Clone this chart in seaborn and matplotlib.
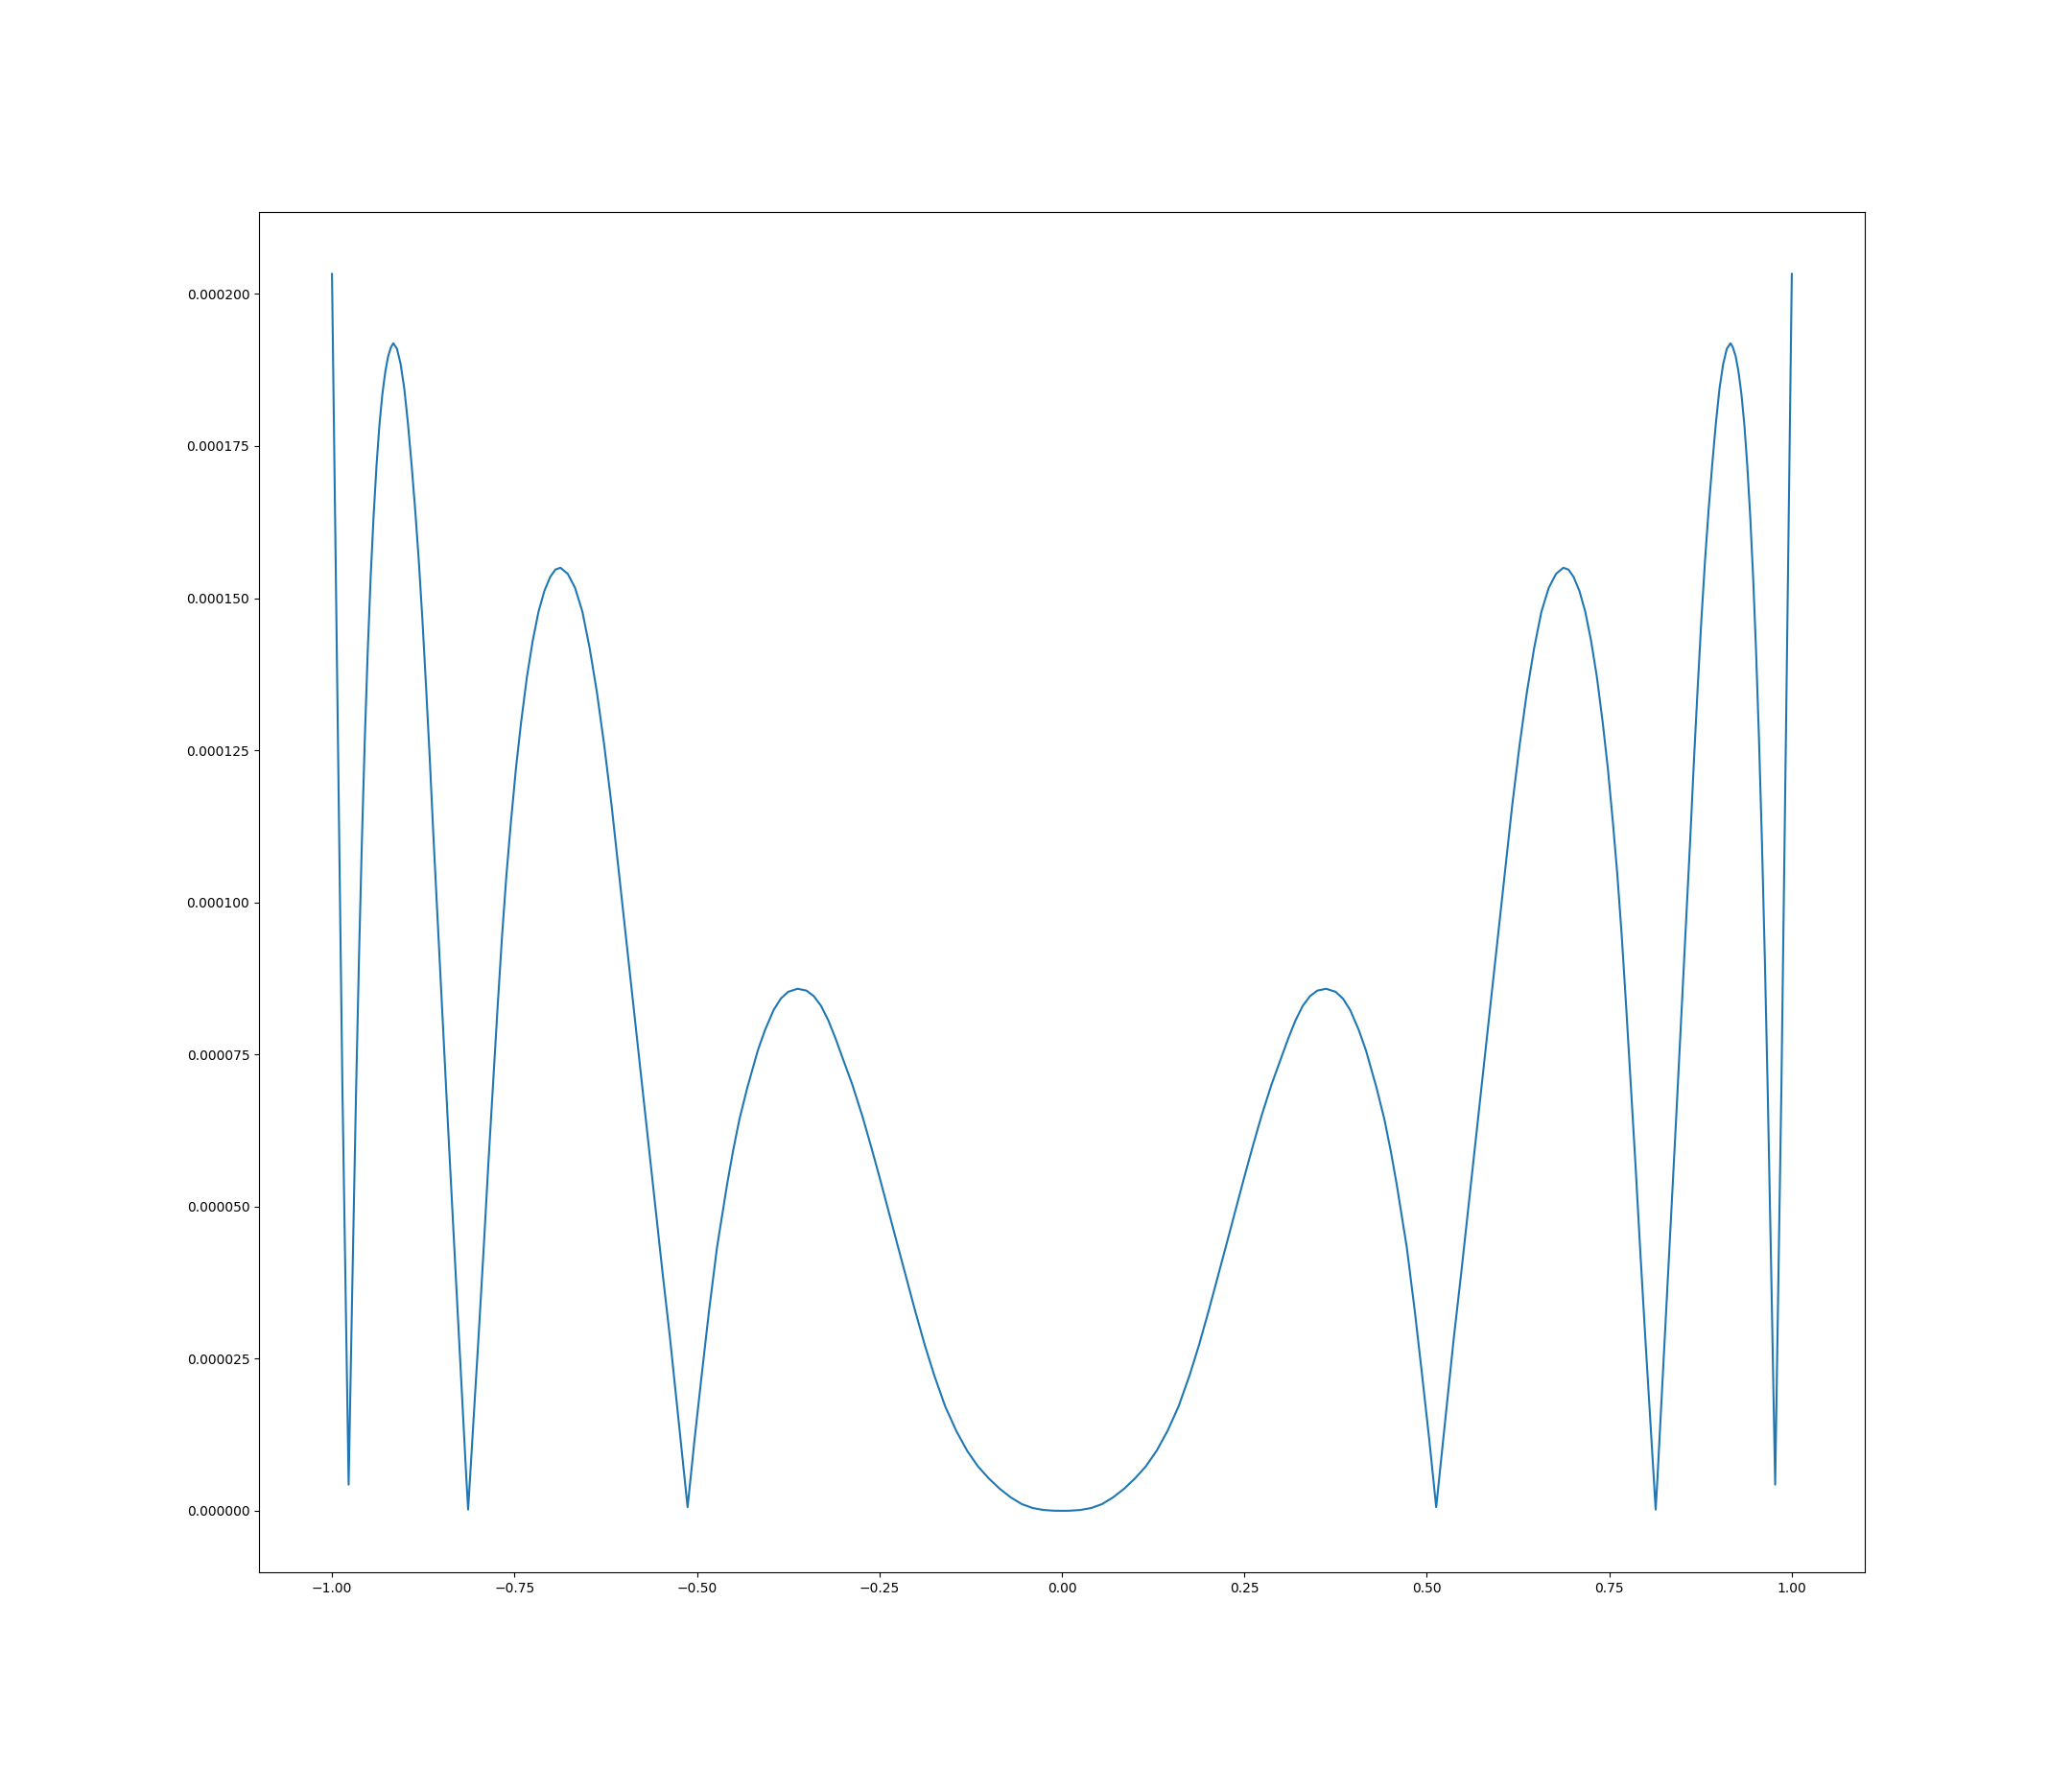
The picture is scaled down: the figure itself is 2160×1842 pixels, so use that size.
import matplotlib
matplotlib.use("Agg")
import matplotlib.pyplot as plt
import seaborn as sns

# |error| curve (values in units of 1e-4)
x_neg = [
    -1.000, -0.995, -0.990, -0.9858, -0.981, -0.9772, -0.972, -0.967, -0.963, -0.959,
    -0.955, -0.951, -0.947, -0.943, -0.939, -0.935, -0.931, -0.927, -0.923, -0.919,
    -0.916, -0.911, -0.906, -0.901, -0.896, -0.891, -0.886, -0.881, -0.876, -0.871,
    -0.866, -0.861, -0.856, -0.851, -0.846, -0.841, -0.836, -0.831, -0.826, -0.821,
    -0.816, -0.8135, -0.806, -0.799, -0.792, -0.7858, -0.7792, -0.773, -0.767, -0.761,
    -0.755, -0.748, -0.741, -0.733, -0.725, -0.717, -0.709, -0.701, -0.694, -0.687,
    -0.677, -0.667, -0.657, -0.647, -0.637, -0.627, -0.617, -0.607, -0.597, -0.587,
    -0.577, -0.567, -0.557, -0.547, -0.537, -0.527, -0.5128, -0.5032, -0.4935, -0.4835,
    -0.4725, -0.4585, -0.4506, -0.4419, -0.4309, -0.4165, -0.4068, -0.395, -0.385, -0.375,
    -0.362, -0.35, -0.34, -0.33, -0.32, -0.31, -0.3016, -0.287, -0.2732, -0.261,
    -0.2491, -0.237, -0.225, -0.213, -0.2009, -0.188, -0.175, -0.16, -0.145, -0.13,
    -0.115, -0.10, -0.085, -0.07, -0.055, -0.04, -0.025, -0.01, 0.0,
]
err_neg = [
    2.033, 1.56, 1.09, 0.701, 0.33, 0.043, 0.38, 0.69, 0.91, 1.102,
    1.27, 1.414, 1.535, 1.635, 1.718, 1.785, 1.835, 1.872, 1.898, 1.913,
    1.919, 1.910, 1.885, 1.845, 1.788, 1.72, 1.645, 1.56, 1.462, 1.352,
    1.235, 1.108, 0.99, 0.87, 0.75, 0.632, 0.515, 0.40, 0.285, 0.17,
    0.055, 0.002, 0.15, 0.29, 0.435, 0.57, 0.705, 0.83, 0.945, 1.045,
    1.13, 1.22, 1.295, 1.37, 1.43, 1.478, 1.512, 1.535, 1.547, 1.550,
    1.540, 1.517, 1.478, 1.418, 1.345, 1.258, 1.16, 1.05, 0.94, 0.83,
    0.72, 0.61, 0.50, 0.39, 0.285, 0.17, 0.006, 0.118, 0.223, 0.328,
    0.433, 0.538, 0.591, 0.643, 0.696, 0.757, 0.79, 0.823, 0.842, 0.853,
    0.858, 0.855, 0.846, 0.83, 0.806, 0.776, 0.748, 0.70, 0.648, 0.597,
    0.545, 0.49, 0.436, 0.382, 0.328, 0.273, 0.223, 0.172, 0.132, 0.099,
    0.073, 0.053, 0.036, 0.022, 0.011, 0.0045, 0.0013, 0.0001, 0.0,
]

x_pos = [
    0.01, 0.025, 0.04, 0.055, 0.07, 0.085, 0.10, 0.115, 0.13, 0.145,
    0.16, 0.175, 0.188, 0.2009, 0.213, 0.225, 0.237, 0.2491, 0.261, 0.2732,
    0.287, 0.3016, 0.31, 0.32, 0.33, 0.34, 0.35, 0.362, 0.375, 0.385,
    0.395, 0.4068, 0.4165, 0.4309, 0.4419, 0.4506, 0.4585, 0.4725, 0.4835, 0.4935,
    0.5032, 0.5128, 0.527, 0.537, 0.547, 0.557, 0.567, 0.577, 0.587, 0.597,
    0.607, 0.617, 0.627, 0.637, 0.647, 0.657, 0.667, 0.677, 0.687, 0.694,
    0.701, 0.709, 0.717, 0.725, 0.733, 0.741, 0.748, 0.755, 0.761, 0.767,
    0.773, 0.7792, 0.7858, 0.792, 0.799, 0.806, 0.8135, 0.816, 0.821, 0.826,
    0.831, 0.836, 0.841, 0.846, 0.851, 0.856, 0.861, 0.866, 0.871, 0.876,
    0.881, 0.886, 0.891, 0.896, 0.901, 0.906, 0.911, 0.916, 0.919, 0.923,
    0.927, 0.931, 0.935, 0.939, 0.943, 0.947, 0.951, 0.955, 0.959, 0.963,
    0.967, 0.972, 0.9772, 0.981, 0.9858, 0.990, 0.995, 1.000,
]
err_pos = [
    0.0001, 0.0013, 0.0045, 0.011, 0.022, 0.036, 0.053, 0.073, 0.099, 0.132,
    0.172, 0.223, 0.273, 0.328, 0.382, 0.436, 0.49, 0.545, 0.597, 0.648,
    0.70, 0.748, 0.776, 0.806, 0.83, 0.846, 0.855, 0.858, 0.853, 0.842,
    0.823, 0.79, 0.757, 0.696, 0.643, 0.591, 0.538, 0.433, 0.328, 0.223,
    0.118, 0.006, 0.17, 0.285, 0.39, 0.50, 0.61, 0.72, 0.83, 0.94,
    1.05, 1.16, 1.258, 1.345, 1.418, 1.478, 1.517, 1.540, 1.550, 1.547,
    1.535, 1.512, 1.478, 1.43, 1.37, 1.295, 1.22, 1.13, 1.045, 0.945,
    0.83, 0.705, 0.57, 0.435, 0.29, 0.15, 0.002, 0.055, 0.17, 0.285,
    0.40, 0.515, 0.632, 0.75, 0.87, 0.99, 1.108, 1.235, 1.352, 1.462,
    1.56, 1.645, 1.72, 1.788, 1.845, 1.885, 1.910, 1.919, 1.913, 1.898,
    1.872, 1.835, 1.785, 1.718, 1.635, 1.535, 1.414, 1.27, 1.102, 0.91,
    0.69, 0.38, 0.043, 0.33, 0.701, 1.09, 1.56, 2.033,
]

UNIT = 1e-4


def main():
    x = x_neg + x_pos
    err = [v * UNIT for v in err_neg + err_pos]

    fig, ax = plt.subplots(figsize=(21.6, 18.42), dpi=100)
    sns.lineplot(x=x, y=err, ax=ax, sort=False, estimator=None)
    fig.savefig("out.png", dpi=100)


if __name__ == "__main__":
    main()
